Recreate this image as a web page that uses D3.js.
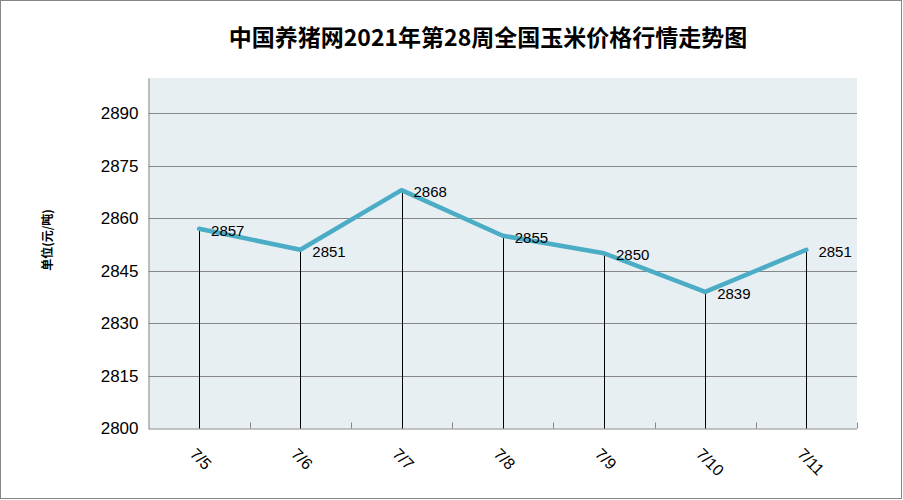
<!DOCTYPE html>
<html><head><meta charset="utf-8">
<script src="https://cdn.jsdelivr.net/npm/d3@7"></script>
<style>body{margin:0;background:#fff}svg{display:block}</style>
</head><body>
<svg id="c" width="903" height="500"></svg>
<script>
const title = "中国养猪网2021年第28周全国玉米价格行情走势图";
const yLabel = "单位(元/吨)";
const categories = ["7/5","7/6","7/7","7/8","7/9","7/10","7/11"];
const values = [2857, 2851, 2868, 2855, 2850, 2839, 2851];
const yTicks = [2800, 2815, 2830, 2845, 2860, 2875, 2890];
const yDomain = [2800, 2900];

const svg = d3.select("#c");
const m = {left:148.5, right:857, top:78, bottom:428.5};

svg.append("rect").attr("x",0.5).attr("y",0.5).attr("width",901).attr("height",498)
  .attr("fill","#fff").attr("stroke","#868686");

const x = d3.scaleBand().domain(categories).range([m.left, m.right]).padding(0);
const y = d3.scaleLinear().domain(yDomain).range([m.bottom, m.top]);

svg.append("rect").attr("x",m.left).attr("y",m.top).attr("width",m.right-m.left).attr("height",m.bottom-m.top)
  .attr("fill","#E8EFF3");

// gridlines
svg.append("g").selectAll("line").data(yTicks.filter(d=>d>yDomain[0])).join("line")
  .attr("x1",m.left).attr("x2",m.right)
  .attr("y1",d=>Math.round(y(d))+0.5).attr("y2",d=>Math.round(y(d))+0.5)
  .attr("stroke","#878787").attr("stroke-width",1);

// y axis
const yAxis = d3.axisLeft(y).tickValues(yTicks).tickSize(0).tickPadding(10).tickFormat(d3.format("d"));
const gy = svg.append("g").attr("transform",`translate(${m.left},0)`).call(yAxis);
gy.select(".domain").attr("stroke","#878787");
gy.selectAll("text").attr("font-family","Liberation Sans, Arial, sans-serif").attr("font-size","17px").attr("fill","#000");

// x axis
const xAxis = d3.axisBottom(x).tickSize(0).tickFormat("");
const gx = svg.append("g").attr("transform",`translate(0,${m.bottom})`).call(xAxis);
gx.select(".domain").attr("stroke","#878787").attr("d",`M${m.left},0.5H${m.right}`);
// minor ticks at band boundaries
const bounds = categories.map(c=>x(c)).slice(1).concat([m.right]);
svg.append("g").selectAll("line").data(bounds).join("line")
  .attr("x1",d=>Math.round(d)+0.5).attr("x2",d=>Math.round(d)+0.5)
  .attr("y1",m.bottom).attr("y2",m.bottom-6).attr("stroke","#878787");

// x labels
svg.append("g").selectAll("text").data(categories).join("text")
  .attr("transform",d=>`translate(${x(d)+x.bandwidth()/2-10},455) rotate(45)`)
  .attr("font-family","Liberation Sans, Arial, sans-serif").attr("font-size","16px").attr("fill","#000")
  .text(d=>d);

const cx = d=>x(d)+x.bandwidth()/2;
const data = categories.map((c,i)=>({c, v:values[i]}));

// drop lines
svg.append("g").selectAll("line").data(data).join("line")
  .attr("x1",d=>Math.round(cx(d.c))+0.5).attr("x2",d=>Math.round(cx(d.c))+0.5)
  .attr("y1",d=>y(d.v)).attr("y2",m.bottom).attr("stroke","#000").attr("stroke-width",1);

// line
svg.append("path").datum(data)
  .attr("d", d3.line().x(d=>cx(d.c)).y(d=>y(d.v)))
  .attr("fill","none").attr("stroke","#4BACC6").attr("stroke-width",4.5)
  .attr("stroke-linejoin","round").attr("stroke-linecap","round");

// data labels
svg.append("g").selectAll("text").data(data).join("text")
  .attr("x",d=>cx(d.c)+12).attr("y",d=>y(d.v)+7)
  .attr("font-family","Liberation Sans, Arial, sans-serif").attr("font-size","15px").attr("fill","#000")
  .text(d=>d.v);

// title
svg.append("text").attr("x",488).attr("y",46).attr("text-anchor","middle")
  .attr("font-family","Noto Sans CJK SC, sans-serif").attr("font-weight","bold").attr("font-size","23px")
  .attr("fill","#000").text(title);

// y label
svg.append("text").attr("transform","translate(52,240) rotate(-90)").attr("text-anchor","middle")
  .attr("font-family","Noto Sans CJK SC, sans-serif").attr("font-weight","bold").attr("font-size","12px")
  .attr("fill","#000").text(yLabel);
</script>
</body></html>
